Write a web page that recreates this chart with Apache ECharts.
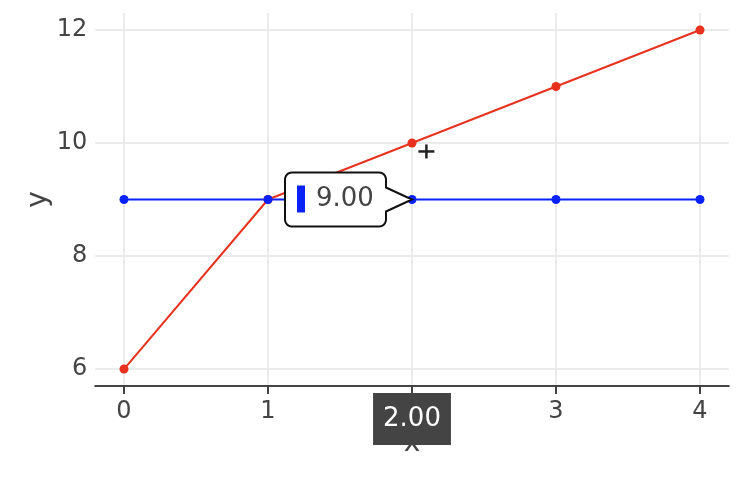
<!DOCTYPE html>
<html>
<head>
<meta charset="utf-8">
<script src="https://cdn.jsdelivr.net/npm/echarts@6/dist/echarts.min.js"></script>
<style>
  html, body { margin: 0; padding: 0; background: #fff; }
  #main { width: 753px; height: 480px; }
</style>
</head>
<body>
<div id="main"></div>
<script>
// data
const xValues = [0, 1, 2, 3, 4];
const redValues = [6, 9, 10, 11, 12];
const blueValues = [9, 9, 9, 9, 9];
const xTicks = [0, 1, 2, 3, 4];
const yTicks = [6, 8, 10, 12];
const xRange = [-0.2, 4.2];
const yRange = [5.7, 12.3];
// hover state: blue trace, third point; mouse cursor position
const hoverIndex = 2;
const cursorAt = [2.1, 9.85];

const FONT = 'DejaVu Sans';
const TEXT = '#444';
const RED = '#e8321f';
const BLUE = '#0a22f8';

const chart = echarts.init(document.getElementById('main'), null, { renderer: 'canvas' });

function pairs(ys) {
  return xValues.map((x, i) => [x, ys[i]]);
}

chart.setOption({
  animation: false,
  backgroundColor: '#fff',
  grid: {
    left: 95.2,
    right: 24.2,
    top: 13,
    bottom: 94,
    containLabel: false,
    outerBoundsMode: 'none'
  },
  xAxis: {
    type: 'value',
    min: xRange[0],
    max: xRange[1],
    minInterval: 1,
    maxInterval: 1,
    name: 'x',
    nameLocation: 'middle',
    nameGap: 44,
    nameMoveOverlap: false,
    nameTextStyle: { fontFamily: FONT, fontSize: 28, color: TEXT },
    axisLine: { show: true, onZero: false, lineStyle: { color: TEXT, width: 2 } },
    axisTick: { show: false },
    axisLabel: { customValues: xTicks, fontFamily: FONT, fontSize: 24, color: TEXT, margin: 14 },
    splitLine: { show: true, showMinLine: false, showMaxLine: false, lineStyle: { color: '#ebebeb', width: 2 } },
    axisPointer: {
      show: true,
      status: 'show',
      value: xValues[hoverIndex],
      type: 'line',
      triggerTooltip: false,
      lineStyle: { opacity: 0 },
      label: {
        show: true,
        formatter: p => Number(p.value).toFixed(2),
        backgroundColor: '#444',
        color: '#fff',
        fontFamily: FONT,
        fontSize: 26,
        padding: [13, 10, 13, 10],
        margin: 7,
        borderRadius: 0
      }
    }
  },
  yAxis: {
    type: 'value',
    min: yRange[0],
    max: yRange[1],
    minInterval: 2,
    maxInterval: 2,
    name: 'y',
    nameLocation: 'middle',
    nameGap: 42,
    nameMoveOverlap: false,
    nameTextStyle: { fontFamily: FONT, fontSize: 28, color: TEXT },
    axisLine: { show: false },
    axisTick: { show: false },
    axisLabel: { customValues: yTicks, fontFamily: FONT, fontSize: 24, color: TEXT, margin: 8 },
    splitLine: { show: true, showMinLine: false, showMaxLine: false, lineStyle: { color: '#ebebeb', width: 2 } }
  },
  series: [
    {
      name: 'red',
      type: 'line',
      data: pairs(redValues),
      symbol: 'circle',
      symbolSize: 9,
      lineStyle: { color: RED, width: 2 },
      itemStyle: { color: RED }
    },
    {
      name: 'blue',
      type: 'line',
      data: pairs(blueValues),
      symbol: 'circle',
      symbolSize: 9,
      lineStyle: { color: BLUE, width: 2 },
      itemStyle: { color: BLUE }
    }
  ]
});

const toPx = v => chart.convertToPixel({ xAxisIndex: 0, yAxisIndex: 0 }, v);

// outside tick marks under the x axis line, placed through the axis scale
const axisY = toPx([xTicks[0], yRange[0]])[1];
const tickMarks = xTicks.map(t => {
  const px = toPx([t, yRange[0]])[0];
  return {
    type: 'line',
    z: 150,
    shape: { x1: px, y1: axisY, x2: px, y2: axisY + 8 },
    style: { stroke: TEXT, lineWidth: 2 }
  };
});

// hover label callout pointing at the hovered blue point
const tip = toPx([xValues[hoverIndex], blueValues[hoverIndex]]);
const tx = tip[0], ty = tip[1];
const L = tx - 127, R = tx - 26, T = ty - 27, B = ty + 27, r = 7, ah = 12;

function arc(cx, cy, a0, a1) {
  const pts = [];
  for (let k = 0; k <= 6; k++) {
    const a = a0 + (a1 - a0) * k / 6;
    pts.push([cx + r * Math.cos(a), cy + r * Math.sin(a)]);
  }
  return pts;
}
const PI = Math.PI;
const calloutPoints = [].concat(
  arc(L + r, T + r, PI, 1.5 * PI),
  arc(R - r, T + r, 1.5 * PI, 2 * PI),
  [[R, ty - ah], [tx, ty], [R, ty + ah]],
  arc(R - r, B - r, 0, 0.5 * PI),
  arc(L + r, B - r, 0.5 * PI, PI)
);

const cur = toPx(cursorAt);

chart.setOption({
  graphic: {
    elements: [
      {
        type: 'polygon',
        z: 100,
        shape: { points: calloutPoints },
        style: { fill: '#fff', stroke: '#111', lineWidth: 2, lineJoin: 'miter' }
      },
      {
        type: 'rect',
        z: 101,
        shape: { x: tx - 115, y: ty - 14, width: 8, height: 27 },
        style: { fill: BLUE }
      },
      {
        type: 'text',
        z: 101,
        x: tx - 96,
        y: ty,
        style: {
          text: blueValues[hoverIndex].toFixed(2),
          fontFamily: FONT,
          fontSize: 26,
          fill: TEXT,
          verticalAlign: 'middle'
        }
      },
      {
        type: 'group',
        z: 102,
        x: cur[0],
        y: cur[1],
        children: [
          { type: 'line', shape: { x1: -8, y1: 0, x2: 8, y2: 0 }, style: { stroke: '#222', lineWidth: 2.5 } },
          { type: 'line', shape: { x1: 0, y1: -7, x2: 0, y2: 7 }, style: { stroke: '#222', lineWidth: 2.5 } }
        ]
      },
      {
        type: 'group',
        z: 150,
        children: tickMarks
      }
    ]
  }
});
</script>
</body>
</html>
